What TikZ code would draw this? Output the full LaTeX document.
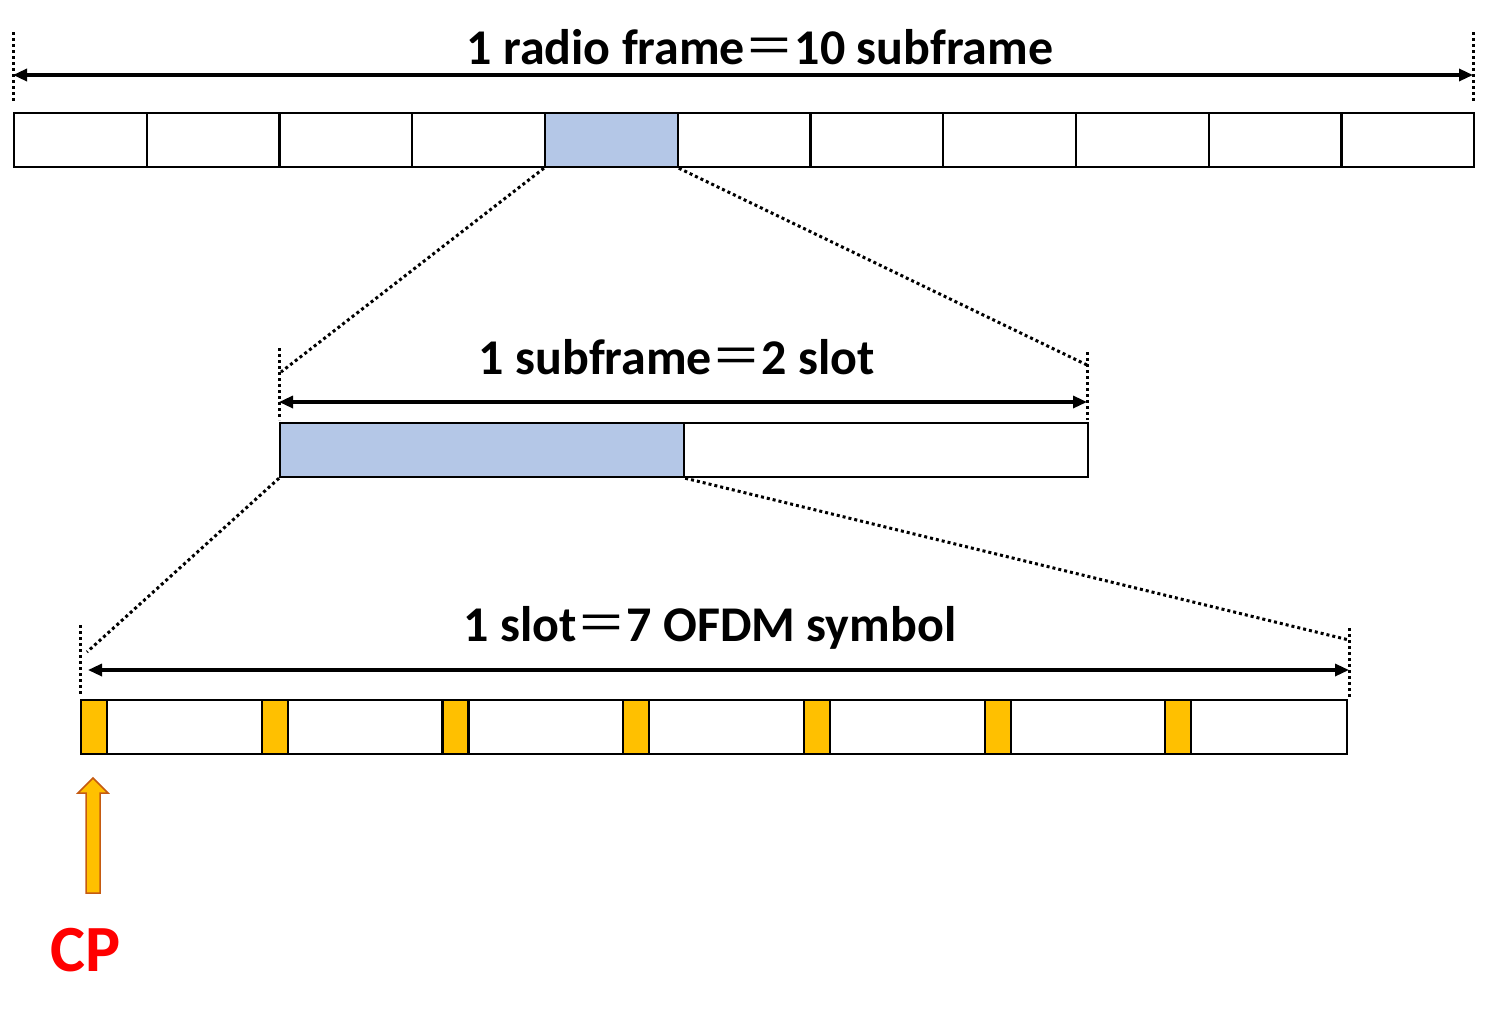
\documentclass[tikz,border=0pt]{standalone}
\usepackage{fontspec}
\setmainfont{Carlito}
\newfontfamily\cjk{Noto Sans CJK SC}
\usetikzlibrary{arrows.meta}
\definecolor{subblue}{RGB}{180,199,231}
\definecolor{cpyellow}{RGB}{255,192,0}
\definecolor{cpedge}{RGB}{197,90,17}
\newcommand{\feq}{{\cjk\mdseries ＝}}
\tikzset{
  cell/.style={draw=black, line width=2.2pt, minimum height=54pt, inner sep=0pt, anchor=north west},
  dimline/.style={line width=3.2pt, {Triangle[length=14pt,width=12pt]}-{Triangle[length=14pt,width=12pt]}},
  dotline/.style={line width=3pt, dash pattern=on 3pt off 3pt},
  title/.style={font=\fontsize{50}{56}\selectfont\bfseries, inner sep=0pt},
}
\begin{document}
\begin{tikzpicture}[x=1pt,y=-1pt]
\useasboundingbox (0,0) rectangle (1487,1029);
% ---------- top level: radio frame ----------
\foreach \i in {0,...,10} {
  \pgfmathsetmacro{\xa}{13+\i*132.73}
  \node[cell, minimum width=132.73pt] (f\i) at (\xa,112) {};
}
\node[cell, fill=subblue, minimum width=132.73pt] (f4) at (13+4*132.73,112) {};
\coordinate (tl1) at (13,32);  \coordinate (tl2) at (13,102);
\coordinate (tr1) at (1473,32); \coordinate (tr2) at (1473,102);
\draw[dotline] (tl1) -- (tl2);
\draw[dotline] (tr1) -- (tr2);
\coordinate (ta) at (13,75); \coordinate (tb) at (1473,75);
\draw[dimline] (ta) -- (tb);
\node[title] (t1) at (760,47) {1 radio frame\feq10 subframe};
% ---------- middle level: subframe ----------
\node[cell, fill=subblue, minimum width=404pt] (s0) at (279,422) {};
\node[cell, minimum width=404pt] (s1) at (683,422) {};
\coordinate (ml1) at (279,348); \coordinate (ml2) at (279,420);
\coordinate (mr1) at (1087,352); \coordinate (mr2) at (1087,420);
\draw[dotline] (ml1) -- (ml2);
\draw[dotline] (mr1) -- (mr2);
\coordinate (ma) at (279,402); \coordinate (mb) at (1087,402);
\draw[dimline] (ma) -- (mb);
\node[title] (t2) at (677,357) {1 subframe\feq2 slot};
% zoom lines top -> middle
\coordinate (z1) at (281,372); \coordinate (z2) at (1087,365);
\draw[dotline] (f4.south west) -- (z1);
\draw[dotline] (f4.south east) -- (z2);
% ---------- bottom level: slot ----------
\node[cell, minimum width=1266pt] (slot) at (80,699) {};
\foreach \i in {0,...,6} {
  \pgfmathsetmacro{\xa}{80+\i*180.7}
  \node[cell, fill=cpyellow, minimum width=26pt] (cp\i) at (\xa,699) {};
}
\coordinate (bl1) at (80,625); \coordinate (bl2) at (80,696);
\coordinate (br1) at (1349,628); \coordinate (br2) at (1349,698);
\draw[dotline] (bl1) -- (bl2);
\draw[dotline] (br1) -- (br2);
\coordinate (ba) at (88,670); \coordinate (bb) at (1349,670);
\draw[dimline] (ba) -- (bb);
\node[title] (t3) at (710,628) {1 slot\feq7 OFDM symbol};
% zoom lines middle -> bottom
\coordinate (z3) at (87,652); \coordinate (z4) at (1349,640);
\draw[dotline] (s0.south west) -- (z3);
\draw[dotline] (s0.south east) -- (z4);
% ---------- CP arrow ----------
\draw[draw=cpedge, fill=cpyellow, line width=1.5pt, line join=miter]
  (93,778) -- (108,793) -- (100,793) -- (100,893) -- (86,893) -- (86,793) -- (78,793) -- cycle;
\node[font=\fontsize{66}{72}\selectfont\bfseries, text=red, inner sep=0pt] (cptext) at (86,950) {CP};
\end{tikzpicture}
\end{document}
